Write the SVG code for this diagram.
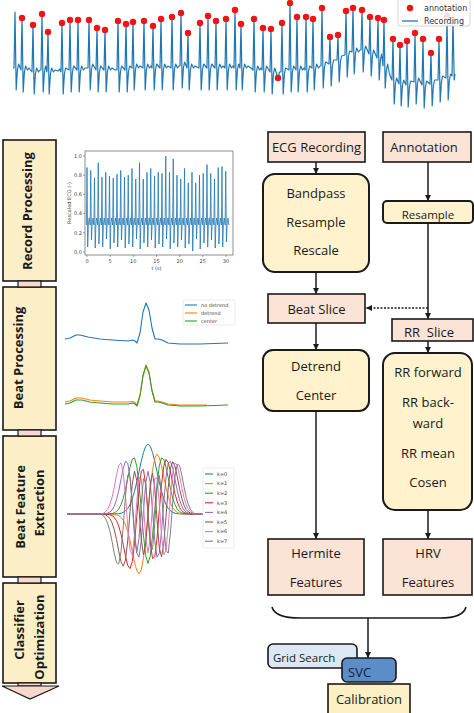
<svg xmlns="http://www.w3.org/2000/svg" width="474" height="713" viewBox="0 0 474 713">
<defs>
<marker id="ah" markerUnits="userSpaceOnUse" markerWidth="7" markerHeight="7" refX="6" refY="3" orient="auto"><path d="M0,0 L6,3 L0,6 z" fill="#1a1a1a"/></marker>
<style>
.lbox{fill:#fcefc8;stroke:#1a1a1a;stroke-width:1.6}
.conn{fill:#f6d8cc;stroke:#1a1a1a;stroke-width:1.2}
.pbox{fill:#fbe3d6;stroke:#1a1a1a;stroke-width:1.6}
.ybox{fill:#fff2cc;stroke:#1a1a1a;stroke-width:2}
.t{font-family:"Open Sans","Liberation Sans",sans-serif;font-size:13px;fill:#1a1a1a;text-anchor:middle}
.lt{font-family:"Open Sans","Liberation Sans",sans-serif;font-size:13px;font-weight:700;fill:#1a1a1a;text-anchor:middle}
.edge{stroke:#1a1a1a;stroke-width:1.5;fill:none;marker-end:url(#ah)}
.mpl{font-family:"DejaVu Sans","Liberation Sans",sans-serif;font-size:5px;fill:#444}
.hc{fill:none;stroke-width:1;vector-effect:non-scaling-stroke;stroke-linejoin:round}
.dot{fill:#f01414}
</style>
</defs>

<!-- top ECG recording plot -->
<g id="ecg-top">
<path fill="none" stroke="#1f77b4" stroke-width="1.2" stroke-linejoin="round" d="M13,68 L14,68 L15,12 L16.2,90 L17.4,70 L18.6,64 L21,70 L22,18 L23.2,92 L24.4,72 L25.6,66 L27.5,70 L29,68 L32,72 L33,25 L34.2,94 L35.4,74 L36.6,68 L38.5,72 L40,70 L41,70 L42,14 L43.2,92 L44.4,72 L45.6,66 L47,72 L48,32 L49.2,94 L50.4,74 L51.6,68 L53.5,72 L55,70 L58,71 L60,69 L61,72 L62,23 L63.2,94 L64.4,74 L65.6,68 L69,70 L70,20 L71.2,92 L72.4,72 L73.6,66 L77,70 L78,20 L79.2,92 L80.4,72 L81.6,66 L83.5,70 L85,68 L88,68 L89,20 L90.2,90 L91.4,70 L92.6,64 L96,70 L97,28 L98.2,92 L99.4,72 L100.6,66 L104,70 L105,30 L106.2,92 L107.4,72 L108.6,66 L110.5,70 L112,68 L115,70 L117,70 L118,21 L119.2,92 L120.4,72 L121.6,66 L125,70 L126,24 L127.2,92 L128.4,72 L129.6,66 L132,68 L133,22 L134.2,90 L135.4,70 L136.6,64 L138.5,68 L140,66 L143,68 L144,21 L145.2,90 L146.4,70 L147.6,64 L149.5,68 L151,66 L152,68 L153,26 L154.2,90 L155.4,70 L156.6,64 L160,68 L161,19 L162.2,90 L163.4,70 L164.6,64 L166.5,68 L168,66 L171,68 L172,17 L173.2,90 L174.4,70 L175.6,64 L177.5,68 L179,66 L180,66 L181,13 L182.2,88 L183.4,68 L184.6,62 L187,68 L188,33 L189.2,90 L190.4,70 L191.6,64 L193.5,68 L195,66 L199,68 L200,23 L201.2,90 L202.4,70 L203.6,64 L207,68 L208,16 L209.2,90 L210.4,70 L211.6,64 L215,68 L216,21 L217.2,90 L218.4,70 L219.6,64 L221.5,68 L223,66 L225,68 L226,19 L227.2,90 L228.4,70 L229.6,64 L231.5,68 L233,66 L234,68 L235,10 L236.2,90 L237.4,70 L238.6,64 L240,68 L241,24 L242.2,90 L243.4,70 L244.6,64 L246.5,68 L248,66 L251,68 L253,70 L254,19 L255.2,92 L256.4,72 L257.6,66 L259.5,70 L261,68 L262,70 L263,28 L264.2,92 L265.4,72 L266.6,66 L270,72 L271,29 L272.2,94 L273.4,74 L274.6,68 L276,72 L278,78 L279.5,72 L281,72 L282,23 L283.2,94 L284.4,74 L285.6,68 L289,70 L290,3 L291.2,92 L292.4,72 L293.6,66 L296,70 L297,17 L298.2,92 L299.4,72 L300.6,66 L302.5,70 L304,68 L305,70 L306,17 L307.2,92 L308.4,72 L309.6,66 L312,68 L313,19 L314.2,90 L315.4,70 L316.6,64 L318.5,68 L320,66 L321,66 L322,8 L323.2,88 L324.4,68 L325.6,62 L329,64 L330,37 L331.2,86 L332.4,66 L333.6,60 L337,60 L338,35 L339.2,82 L340.4,62 L341.6,56 L345,55 L346,11 L347.2,77 L348.4,57 L349.6,51 L352,52 L353,8 L354.2,74 L355.4,54 L356.6,48 L358.5,52 L360,50 L361,50 L362,10 L363.2,72 L364.4,52 L365.6,46 L369,54 L370,17 L371.2,76 L372.4,56 L373.6,50 L377,58 L378,18 L379.2,80 L380.4,60 L381.6,54 L383,66 L384,20 L385.2,88 L386.4,70 L387.6,64 L389.5,74 L391,78 L392,80 L393,39 L394.2,104 L395.4,84 L396.6,78 L399,84 L400,45 L401.2,106 L402.4,86 L403.6,80 L406,85 L407,41 L408.2,107 L409.4,87 L410.6,81 L414,82 L415,33 L416.2,104 L417.4,84 L418.6,78 L422,85 L423,39 L424.2,108 L425.4,87 L426.6,81 L430,84 L431,53 L432.2,106 L433.4,86 L434.6,80 L438,80 L439,39 L440.2,102 L441.4,82 L442.6,76 L446,78 L447,16 L448.2,100 L449.4,80 L450.6,74 L452,76 L453,18 L454.2,80 L455,74"/>
<g class="dot">
<circle cx="22" cy="18" r="3.2"/><circle cx="33" cy="25" r="3.2"/><circle cx="42" cy="14" r="3.2"/><circle cx="48" cy="32" r="3.2"/><circle cx="62" cy="23" r="3.2"/><circle cx="70" cy="20" r="3.2"/><circle cx="78" cy="20" r="3.2"/><circle cx="89" cy="20" r="3.2"/><circle cx="97" cy="28" r="3.2"/><circle cx="105" cy="30" r="3.2"/><circle cx="118" cy="21" r="3.2"/><circle cx="126" cy="24" r="3.2"/><circle cx="133" cy="22" r="3.2"/><circle cx="144" cy="21" r="3.2"/><circle cx="153" cy="26" r="3.2"/><circle cx="161" cy="19" r="3.2"/><circle cx="172" cy="17" r="3.2"/><circle cx="181" cy="13" r="3.2"/><circle cx="188" cy="33" r="3.2"/><circle cx="200" cy="23" r="3.2"/><circle cx="208" cy="16" r="3.2"/><circle cx="216" cy="21" r="3.2"/><circle cx="226" cy="19" r="3.2"/><circle cx="235" cy="10" r="3.2"/><circle cx="241" cy="24" r="3.2"/><circle cx="254" cy="19" r="3.2"/><circle cx="263" cy="28" r="3.2"/><circle cx="271" cy="29" r="3.2"/><circle cx="278" cy="78" r="3.2"/><circle cx="282" cy="23" r="3.2"/><circle cx="290" cy="3" r="3.2"/><circle cx="297" cy="17" r="3.2"/><circle cx="306" cy="17" r="3.2"/><circle cx="313" cy="19" r="3.2"/><circle cx="322" cy="8" r="3.2"/><circle cx="330" cy="37" r="3.2"/><circle cx="338" cy="35" r="3.2"/><circle cx="346" cy="11" r="3.2"/><circle cx="353" cy="8" r="3.2"/><circle cx="362" cy="10" r="3.2"/><circle cx="370" cy="17" r="3.2"/><circle cx="378" cy="18" r="3.2"/><circle cx="384" cy="20" r="3.2"/><circle cx="393" cy="39" r="3.2"/><circle cx="400" cy="45" r="3.2"/><circle cx="407" cy="41" r="3.2"/><circle cx="415" cy="33" r="3.2"/><circle cx="423" cy="39" r="3.2"/><circle cx="431" cy="53" r="3.2"/><circle cx="439" cy="39" r="3.2"/><circle cx="447" cy="16" r="3.2"/>
</g>
<rect x="398" y="-2" width="72" height="28" rx="2" fill="#fff" fill-opacity="0.85" stroke="#ccc" stroke-width="0.8"/>
<circle cx="410" cy="8" r="3.2" class="dot"/>
<line x1="402" y1="21" x2="418" y2="21" stroke="#1f77b4" stroke-width="1.3"/>
<text x="424" y="10.8" style="font-family:'DejaVu Sans',sans-serif;font-size:8px;fill:#333">annotation</text>
<text x="424" y="23.8" style="font-family:'DejaVu Sans',sans-serif;font-size:8px;fill:#333">Recording</text>
</g>

<!-- record plot -->
<g id="record-plot">
<rect x="85" y="151" width="148" height="104" fill="#fff" stroke="#444" stroke-width="0.6"/>
<path fill="none" stroke="#1f77b4" stroke-width="0.8" stroke-linejoin="round" d="M86.4,225 l0.6,-57.5 l0.7,79.5 l0.7,-23 l0.8,-6 l0.95,7 l0.6,-54.6 l0.7,69.6 l0.7,-16 l0.8,-6 l0.95,7 l0.6,-46.9 l0.7,69.9 l0.7,-24 l0.8,-6 l0.95,7 l0.6,-62.3 l0.7,81.3 l0.7,-20 l0.8,-6 l0.95,7 l0.6,-47.9 l0.7,69.9 l0.7,-23 l0.8,-6 l0.95,7 l0.6,-52.7 l0.7,66.7 l0.7,-15 l0.8,-6 l0.95,7 l0.6,-48.8 l0.7,72.8 l0.7,-25 l0.8,-6 l0.95,7 l0.6,-46.9 l0.7,64.9 l0.7,-19 l0.8,-6 l0.95,7 l0.6,-50.8 l0.7,72.8 l0.7,-23 l0.8,-6 l0.95,7 l0.6,-54.6 l0.7,69.6 l0.7,-16 l0.8,-6 l0.95,7 l0.6,-47.9 l0.7,70.9 l0.7,-24 l0.8,-6 l0.95,7 l0.6,-49.8 l0.7,68.8 l0.7,-20 l0.8,-6 l0.95,7 l0.6,-56.5 l0.7,78.5 l0.7,-23 l0.8,-6 l0.95,7 l0.6,-46 l0.7,60 l0.7,-15 l0.8,-6 l0.95,7 l0.6,-62.3 l0.7,86.3 l0.7,-25 l0.8,-6 l0.95,7 l0.6,-46 l0.7,64 l0.7,-19 l0.8,-6 l0.95,7 l0.6,-52.7 l0.7,74.7 l0.7,-23 l0.8,-6 l0.95,7 l0.6,-56.5 l0.7,71.5 l0.7,-16 l0.8,-6 l0.95,7 l0.6,-48.8 l0.7,71.8 l0.7,-24 l0.8,-6 l0.95,7 l0.6,-52.7 l0.7,71.7 l0.7,-20 l0.8,-6 l0.95,7 l0.6,-51.7 l0.7,73.7 l0.7,-23 l0.8,-6 l0.95,7 l0.6,-69 l0.7,83 l0.7,-15 l0.8,-6 l0.95,7 l0.6,-52.7 l0.7,76.7 l0.7,-25 l0.8,-6 l0.95,7 l0.6,-66.1 l0.7,84.1 l0.7,-19 l0.8,-6 l0.95,7 l0.6,-49.8 l0.7,71.8 l0.7,-23 l0.8,-6 l0.95,7 l0.6,-46 l0.7,61 l0.7,-16 l0.8,-6 l0.95,7 l0.6,-56.5 l0.7,79.5 l0.7,-24 l0.8,-6 l0.95,7 l0.6,-42.1 l0.7,61.1 l0.7,-20 l0.8,-6 l0.95,7 l0.6,-52.7 l0.7,78.7 l0.7,-27 l0.8,-6 l0.95,7 l0.6,-42.1 l0.7,56.1 l0.7,-15 l0.8,-6 l0.95,7 l0.6,-49.8 l0.7,73.8 l0.7,-25 l0.8,-6 l0.95,7 l0.6,-51.7 l0.7,69.7 l0.7,-19 l0.8,-6 l0.95,7 l0.6,-60.4 l0.7,82.4 l0.7,-23 l0.8,-6 l0.95,7 l0.6,-51.7 l0.7,66.7 l0.7,-16 l0.8,-6 l0.95,7 l0.6,-46 l0.7,69 l0.7,-24 l0.8,-6 l0.95,7 l0.6,-57.5 l0.7,76.5 l0.7,-20 l0.8,-6 l0.95,7 l0.6,-58.4 l0.7,80.4 l0.7,-23 l0.8,-6 l0.95,7 l0.6,-53.6 l0.7,70.6 l0.7,-18 l0.8,-6 l0.95,7"/>
<g stroke="#444" stroke-width="0.5">
<line x1="83" y1="156" x2="85" y2="156"/><line x1="83" y1="175.2" x2="85" y2="175.2"/><line x1="83" y1="194.4" x2="85" y2="194.4"/><line x1="83" y1="213.6" x2="85" y2="213.6"/><line x1="83" y1="232.8" x2="85" y2="232.8"/><line x1="83" y1="252" x2="85" y2="252"/>
<line x1="87" y1="255" x2="87" y2="257"/><line x1="110.2" y1="255" x2="110.2" y2="257"/><line x1="133.3" y1="255" x2="133.3" y2="257"/><line x1="156.5" y1="255" x2="156.5" y2="257"/><line x1="179.7" y1="255" x2="179.7" y2="257"/><line x1="202.8" y1="255" x2="202.8" y2="257"/><line x1="226" y1="255" x2="226" y2="257"/>
</g>
<g class="mpl" text-anchor="end">
<text x="82" y="157.7">1.0</text><text x="82" y="176.9">0.8</text><text x="82" y="196.1">0.6</text><text x="82" y="215.3">0.4</text><text x="82" y="234.5">0.2</text><text x="82" y="253.7">0.0</text>
</g>
<g class="mpl" text-anchor="middle">
<text x="87" y="263">0</text><text x="110.2" y="263">5</text><text x="133.3" y="263">10</text><text x="156.5" y="263">15</text><text x="179.7" y="263">20</text><text x="202.8" y="263">25</text><text x="226" y="263">30</text>
<text x="156.5" y="270">t (s)</text>
<text transform="translate(71,203) rotate(-90)" x="0" y="0">Rescaled ECG (-)</text>
</g>
</g>

<!-- beat processing plot -->
<g id="beat-plot" fill="none" stroke-width="1.1" stroke-linejoin="round">
<polyline stroke="#1f77b4" points="65,339 70,338 76,335 80,335 88,337 100,339 112,340 128,341 133,340 135,341 137,343 140,333 143,312 146,303 149,310 152,328 155,339 158,339 162,340 168,343 180,344 200,344 228,343"/>
<polyline stroke="#ff7f0e" points="65,402 70,401 76,398 82,398 90,400 100,401 112,402 128,402 133,401.5 135,402.5 137,405 140,395 143,375 146,365 149,372 152,390 155,401 158,401 162,402 168,404 180,405 207,405"/>
<polyline stroke="#2ca02c" points="65,404 70,403 76,400 82,400 90,402 100,403 112,404 128,404 133,403 135,404 137,406 140,396 143,376 146,366 149,373 152,391 155,402 158,402 162,403 168,405 180,406 200,406 228,405"/>
<rect x="183" y="300" width="52" height="25" rx="1.5" fill="#fff" fill-opacity="0.85" stroke="#ddd" stroke-width="0.6"/>
<line x1="185" y1="305" x2="197" y2="305" stroke="#1f77b4"/>
<line x1="185" y1="313" x2="197" y2="313" stroke="#ff7f0e"/>
<line x1="185" y1="321" x2="197" y2="321" stroke="#2ca02c"/>
<g class="mpl" stroke="none"><text x="201" y="306.8">no detrend</text><text x="201" y="314.8">detrend</text><text x="201" y="322.8">center</text></g>
</g>

<!-- hermite plot -->
<g id="hermite-plot">
<g transform="translate(148,514) scale(9,-93)">
<polyline class="hc" stroke="#1f77b4" points="-9,0 -5,0 -4,0.0003 -3.5,0.0016 -3.25,0.0038 -3,0.0083 -2.75,0.0171 -2.5,0.033 -2.25,0.0598 -2,0.1016 -1.75,0.1625 -1.5,0.2439 -1.25,0.3439 -1,0.4556 -0.75,0.5669 -0.5,0.6629 -0.25,0.728 0,0.7511 0.25,0.728 0.5,0.6629 0.75,0.5669 1,0.4556 1.25,0.3439 1.5,0.2439 1.75,0.1625 2,0.1016 2.25,0.0598 2.5,0.033 2.75,0.0171 3,0.0083 3.25,0.0038 3.5,0.0016 4,0.0003 5,0 6.1,0"/>
<polyline class="hc" stroke="#ff7f0e" points="-9,0 -4.25,0 -4,-0.0014 -3.75,-0.0035 -3.5,-0.0081 -3.25,-0.0176 -3,-0.0354 -2.75,-0.0665 -2.5,-0.1167 -2.25,-0.1903 -2,-0.2874 -1.75,-0.4022 -1.5,-0.5174 -1.25,-0.6079 -1,-0.6443 -0.75,-0.6013 -0.5,-0.4687 -0.25,-0.2574 0,0 0.25,0.2574 0.5,0.4687 0.75,0.6013 1,0.6443 1.25,0.6079 1.5,0.5174 1.75,0.4022 2,0.2874 2.25,0.1903 2.5,0.1167 2.75,0.0665 3,0.0354 3.25,0.0176 3.5,0.0081 3.75,0.0035 4,0.0014 4.25,0 6.1,0"/>
<polyline class="hc" stroke="#2ca02c" points="-9,0 -4.5,0 -4.25,0.0022 -4,0.0055 -3.75,0.0127 -3.5,0.0273 -3.25,0.0544 -3,0.1003 -2.75,0.1708 -2.5,0.2683 -2.25,0.3859 -2,0.5029 -1.75,0.5889 -1.5,0.6036 -1.25,0.5167 -1,0.3222 -0.75,0.0501 -0.5,-0.2344 -0.25,-0.4504 0,-0.5311 0.25,-0.4504 0.5,-0.2344 0.75,0.0501 1,0.3222 1.25,0.5167 1.5,0.6036 1.75,0.5889 2,0.5029 2.25,0.3859 2.5,0.2683 2.75,0.1708 3,0.1003 3.25,0.0544 3.5,0.0273 3.75,0.0127 4,0.0055 4.25,0.0022 4.5,0 6.1,0"/>
<polyline class="hc" stroke="#d62728" points="-9,0 -4.75,0 -4.5,-0.003 -4.25,-0.0073 -4,-0.0169 -3.75,-0.0361 -3.5,-0.0713 -3.25,-0.1299 -3,-0.2167 -2.75,-0.3292 -2.5,-0.4525 -2.25,-0.5535 -2,-0.5866 -1.75,-0.5131 -1.5,-0.3168 -1.25,-0.031 -1,0.263 -0.75,0.4603 -0.5,0.4784 -0.25,0.3021 0,0 0.25,-0.3021 0.5,-0.4784 0.75,-0.4603 1,-0.263 1.25,0.031 1.5,0.3168 1.75,0.5131 2,0.5866 2.25,0.5535 2.5,0.4525 2.75,0.3292 3,0.2167 3.25,0.1299 3.5,0.0713 3.75,0.0361 4,0.0169 4.25,0.0073 4.5,0.003 4.75,0 6.1,0"/>
<polyline class="hc" stroke="#9467bd" points="-9,0 -5,0 -4.75,0.003 -4.5,0.0086 -4.25,0.0199 -4,0.043 -3.75,0.0847 -3.5,0.1527 -3.25,0.2515 -3,0.3728 -2.75,0.4922 -2.5,0.5675 -2.25,0.5464 -2,0.394 -1.75,0.1249 -1.5,-0.1867 -1.25,-0.4201 -1,-0.465 -0.75,-0.2875 -0.5,0.0338 -0.25,0.3367 0,0.46 0.25,0.3367 0.5,0.0338 0.75,-0.2875 1,-0.465 1.25,-0.4201 1.5,-0.1867 1.75,0.1249 2,0.394 2.25,0.5464 2.5,0.5675 2.75,0.4922 3,0.3728 3.25,0.2515 3.5,0.1527 3.75,0.0847 4,0.043 4.25,0.0199 4.5,0.0086 4.75,0.003 5,0 6.1,0"/>
<polyline class="hc" stroke="#8c564b" points="-9,0 -5,0 -4.75,-0.009 -4.5,-0.0219 -4.25,-0.047 -4,-0.0936 -3.75,-0.1687 -3.5,-0.2744 -3.25,-0.4007 -3,-0.5136 -2.75,-0.5618 -2.5,-0.4927 -2.25,-0.2826 -2,0.0262 -1.75,0.3206 -1.5,0.4605 -1.25,0.3599 -1,0.0588 -0.75,-0.2753 -0.5,-0.4386 -0.25,-0.3234 0,0 0.25,0.3234 0.5,0.4386 0.75,0.2753 1,-0.0588 1.25,-0.3599 1.5,-0.4605 1.75,-0.3206 2,-0.0262 2.25,0.2826 2.5,0.4927 2.75,0.5618 3,0.5136 3.25,0.4007 3.5,0.2744 3.75,0.1687 4,0.0936 4.25,0.047 4.5,0.0219 4.75,0.009 5,0 6.1,0"/>
<polyline class="hc" stroke="#e377c2" points="-9,0 -5.25,0 -5,0.005 -4.75,0.022 -4.5,0.049 -4.25,0.0972 -4,0.1769 -3.75,0.2879 -3.5,0.4151 -3.25,0.5224 -3,0.5494 -2.75,0.4426 -2.5,0.1931 -2.25,-0.1317 -2,-0.39 -1.75,-0.438 -1.5,-0.2284 -1.25,0.1237 -1,0.3905 -0.75,0.3817 -0.5,0.0957 -0.25,-0.2607 0,-0.4199 0.25,-0.2607 0.5,0.0957 0.75,0.3817 1,0.3905 1.25,0.1237 1.5,-0.2284 1.75,-0.438 2,-0.39 2.25,-0.1317 2.5,0.1931 2.75,0.4426 3,0.5494 3.25,0.5224 3.5,0.4151 3.75,0.2879 4,0.1769 4.25,0.0972 4.5,0.049 4.75,0.022 5,0.005 5.25,0 6.1,0"/>
<polyline class="hc" stroke="#7f7f7f" points="-9,0 -5.25,0 -5,-0.015 -4.75,-0.045 -4.5,-0.0975 -4.25,-0.1773 -4,-0.2916 -3.75,-0.4209 -3.5,-0.5225 -3.25,-0.5365 -3,-0.4054 -2.75,-0.1305 -2.5,0.1981 -2.25,0.42 -2,0.3926 -1.75,0.1129 -1.5,-0.2432 -1.25,-0.4159 -1,-0.2632 -0.75,0.1019 -0.5,0.3805 -0.25,0.3343 0,0 0.25,-0.3343 0.5,-0.3805 0.75,-0.1019 1,0.2632 1.25,0.4159 1.5,0.2432 1.75,-0.1129 2,-0.3926 2.25,-0.42 2.5,-0.1981 2.75,0.1305 3,0.4054 3.25,0.5365 3.5,0.5225 3.75,0.4209 4,0.2916 4.25,0.1773 4.5,0.0975 4.75,0.045 5,0.015 5.25,0 6.1,0"/>
</g>
<rect x="203" y="468" width="31" height="80" rx="1.5" fill="#fff" fill-opacity="0.85" stroke="#ddd" stroke-width="0.6"/>
<g stroke-width="1.1">
<line x1="205" y1="474" x2="213" y2="474" stroke="#1f77b4"/><line x1="205" y1="483.6" x2="213" y2="483.6" stroke="#ff7f0e"/><line x1="205" y1="493.2" x2="213" y2="493.2" stroke="#2ca02c"/><line x1="205" y1="502.8" x2="213" y2="502.8" stroke="#d62728"/><line x1="205" y1="512.4" x2="213" y2="512.4" stroke="#9467bd"/><line x1="205" y1="522" x2="213" y2="522" stroke="#8c564b"/><line x1="205" y1="531.6" x2="213" y2="531.6" stroke="#e377c2"/><line x1="205" y1="541.2" x2="213" y2="541.2" stroke="#7f7f7f"/>
</g>
<g class="mpl"><text x="217" y="475.8">k=0</text><text x="217" y="485.4">k=1</text><text x="217" y="495">k=2</text><text x="217" y="504.6">k=3</text><text x="217" y="514.2">k=4</text><text x="217" y="523.8">k=5</text><text x="217" y="533.4">k=6</text><text x="217" y="543">k=7</text></g>
</g>

<!-- left stage column -->
<g id="stage-record"><rect class="lbox" x="3" y="140" width="53" height="141"/><text class="lt" transform="translate(27,211) rotate(-90)" y="4.5">Record Processing</text></g>
<g id="stage-beat"><rect class="lbox" x="3" y="287" width="53" height="143"/><text class="lt" transform="translate(18,358) rotate(-90)" y="4.5">Beat Processing</text></g>
<g id="stage-feature"><rect class="lbox" x="3" y="436" width="53" height="141"/><text class="lt" transform="translate(20,507) rotate(-90)" y="4.5">Beat Feature</text><text class="lt" transform="translate(39,503) rotate(-90)" y="4.5">Extraction</text></g>
<g id="stage-classifier"><rect class="lbox" x="3" y="583" width="53" height="100"/><text class="lt" transform="translate(19,630) rotate(-90)" y="4.5">Classifier</text><text class="lt" transform="translate(39,637) rotate(-90)" y="4.5">Optimization</text></g>
<g id="stage-links">
<rect class="conn" x="18" y="281" width="23" height="6"/>
<rect class="conn" x="18" y="430" width="23" height="6"/>
<rect class="conn" x="18" y="577" width="23" height="6"/>
<rect class="conn" x="18" y="683" width="23" height="3"/>
<path class="conn" d="M2,686 L59,686 L30,699 Z"/>
</g>

<!-- right flowchart nodes -->
<g id="n-ecg"><rect class="pbox" x="268" y="132" width="97" height="30"/><text class="t" x="316.5" y="151.5">ECG Recording</text></g>
<g id="n-annotation"><rect class="pbox" x="383" y="132" width="88" height="30"/><text class="t" x="424" y="151.5">Annotation</text></g>
<g id="n-filter"><rect class="ybox" x="263" y="174" width="106" height="98" rx="12"/><text class="t" x="316" y="197.5">Bandpass</text><text class="t" x="316" y="226.5">Resample</text><text class="t" x="316" y="254.5">Rescale</text></g>
<g id="n-resample"><rect class="ybox" x="383" y="201" width="90" height="22" rx="4"/><text class="t" x="428" y="219" style="font-size:11.5px">Resample</text></g>
<g id="n-beatslice"><rect class="pbox" x="268" y="294" width="97" height="29"/><text class="t" x="316.5" y="313.5">Beat Slice</text></g>
<g id="n-rrslice"><rect class="pbox" x="392" y="319" width="81" height="22"/><text class="t" x="429" y="336.5" style="white-space:pre">RR  Slice</text></g>
<g id="n-detrend"><rect class="ybox" x="263" y="350" width="106" height="61" rx="10"/><text class="t" x="316" y="370.5">Detrend</text><text class="t" x="316" y="399.5">Center</text></g>
<g id="n-rr"><rect class="ybox" x="383" y="353" width="89" height="157" rx="12"/><text class="t" x="428" y="376.5">RR forward</text><text class="t" x="428" y="406.5">RR back-</text><text class="t" x="428" y="427.5">ward</text><text class="t" x="428" y="457.5">RR mean</text><text class="t" x="428" y="486.5">Cosen</text></g>
<g id="n-hermite"><rect class="pbox" x="268" y="539" width="96" height="56"/><text class="t" x="316" y="557.5">Hermite</text><text class="t" x="316" y="586.5">Features</text></g>
<g id="n-hrv"><rect class="pbox" x="383" y="539" width="89" height="56"/><text class="t" x="428" y="557.5">HRV</text><text class="t" x="428" y="586.5">Features</text></g>
<g id="n-grid"><rect x="268" y="644" width="89" height="24" rx="5" fill="#dde8f5" stroke="#1a1a1a" stroke-width="1.6"/><text class="t" x="273" y="662" style="font-size:11.5px;text-anchor:start">Grid Search</text></g>
<g id="n-svc"><rect x="342" y="658" width="54" height="24" rx="5" fill="#5b8dc8" stroke="#1a1a1a" stroke-width="1.6"/><text class="t" x="348" y="677" style="text-anchor:start;fill:#13203a">SVC</text></g>
<g id="n-calibration"><rect x="328" y="684" width="82" height="34" fill="#fdf0c5" stroke="#1a1a1a" stroke-width="1.6"/><text class="t" x="369" y="703.5">Calibration</text></g>

<!-- connectors -->
<g id="connectors">
<line class="edge" x1="316" y1="162" x2="316" y2="174"/>
<line class="edge" x1="316" y1="272" x2="316" y2="294"/>
<line class="edge" x1="316" y1="323" x2="316" y2="350"/>
<line class="edge" x1="316" y1="411" x2="316" y2="539"/>
<line class="edge" x1="428" y1="162" x2="428" y2="201"/>
<line class="edge" x1="428" y1="223" x2="428" y2="319"/>
<line class="edge" x1="428" y1="341" x2="428" y2="353"/>
<line class="edge" x1="428" y1="510" x2="428" y2="539"/>
<line class="edge" x1="428" y1="308" x2="366" y2="308" stroke-dasharray="2,1.5" stroke-width="2"/>
<path d="M272,607 C274,615 284,618 300,618 L440,618 C455,618 464,615 466,607" fill="none" stroke="#1a1a1a" stroke-width="1.6"/>
<line class="edge" x1="368" y1="618" x2="368" y2="658"/>
</g>
</svg>
